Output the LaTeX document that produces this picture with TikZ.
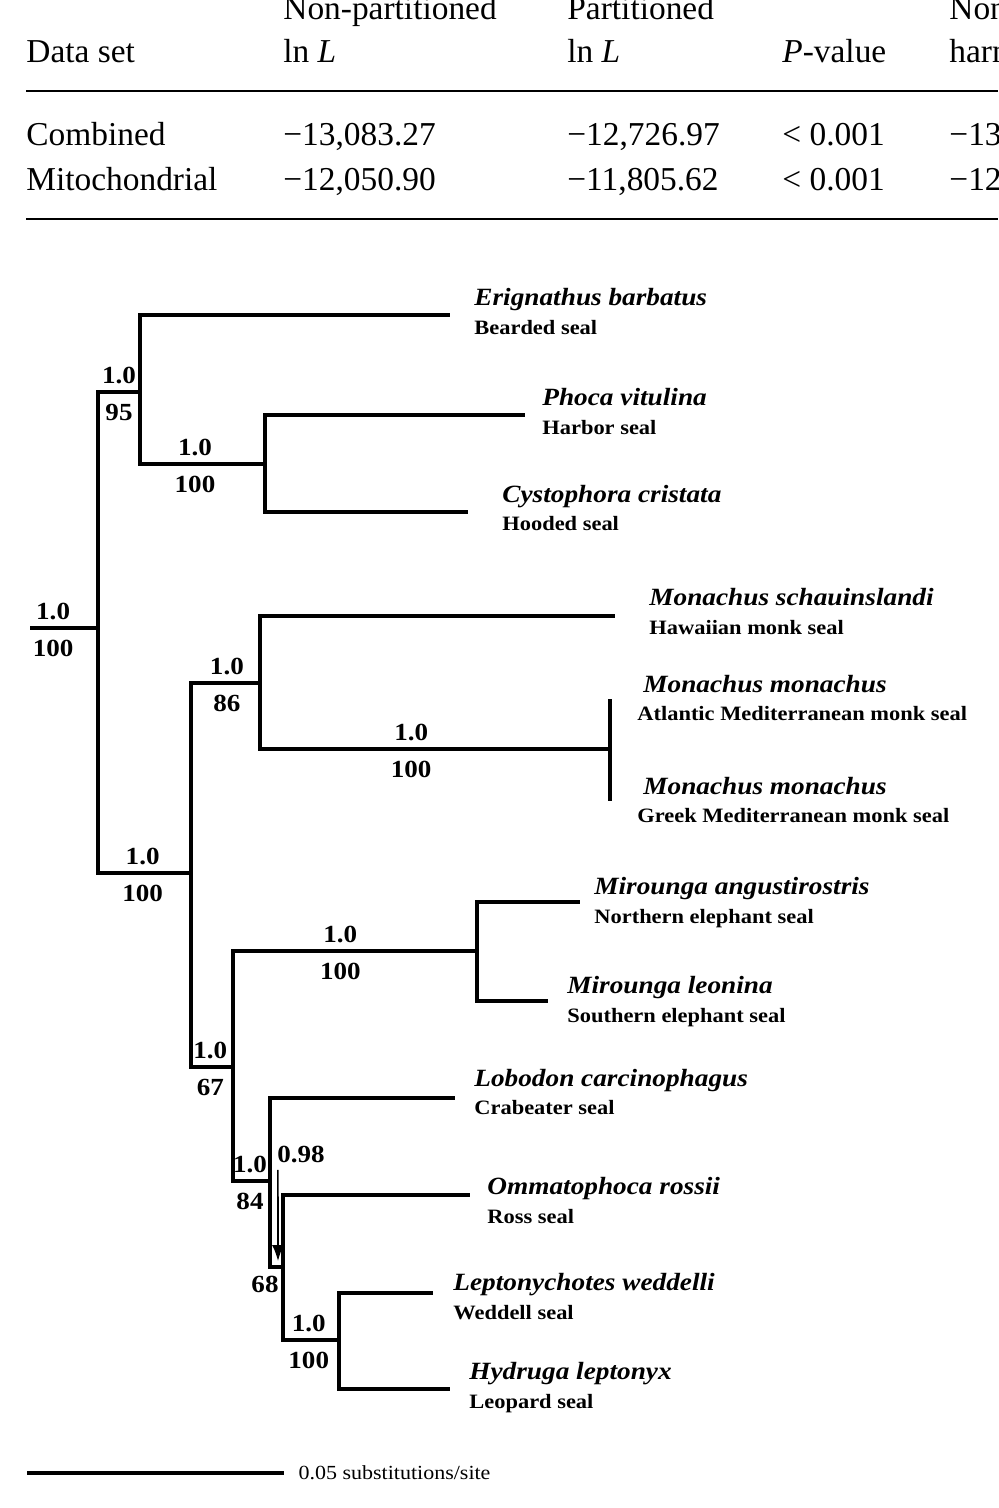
\documentclass[tikz,border=0pt]{standalone}
\usepackage{fontspec}
\setmainfont{Liberation Serif}
\newfontfamily\treefont[FakeStretch=1.1]{Liberation Serif}
\usetikzlibrary{arrows.meta,positioning}

\begin{document}
\begin{tikzpicture}[
  x=0.5pt, y=-0.5pt,
  branch/.style={line width=1.6pt},
  tablerule/.style={line width=#1},
  cell/.style={anchor=base west, inner sep=0pt, font=\fontsize{16.7}{20}\selectfont},
  species/.style={anchor=base west, inner sep=0pt,
    font=\treefont\fontsize{12.4}{15}\selectfont\bfseries\itshape},
  common/.style={anchor=base west, inner sep=0pt,
    font=\treefont\fontsize{10.2}{12}\selectfont\bfseries},
  pp/.style={above=3.5pt, inner sep=0pt, font=\treefont\fontsize{12.3}{14}\selectfont\bfseries},
  bs/.style={below=5.5pt, inner sep=0pt, font=\treefont\fontsize{12.3}{14}\selectfont\bfseries},
  support/.style={inner sep=0pt, font=\treefont\fontsize{12.3}{14}\selectfont\bfseries},
  pointer/.style={line width=0.8pt, -{Latex[length=8pt,width=6pt]}}
]
  \useasboundingbox (0,0) rectangle (998,1508);
  \clip (0,0) rectangle (998,1508);

  % table
  \node[cell] (h-np) at (283,20) {Non-partitioned};
  \node[cell] (h-p) at (567,20) {Partitioned};
  \node[cell] (h-nh) at (949,20) {Non};
  \node[cell] (h-ds) at (26,63) {Data set};
  \node[cell] (h-l1) at (283,63) {ln \textit{L}};
  \node[cell] (h-l2) at (567,63) {ln \textit{L}};
  \node[cell] (h-pv) at (782,63) {\textit{P}-value};
  \node[cell] (h-hm) at (949,63) {harm};
  \draw[tablerule=0.9pt] (26,91) -- (998,91);
  \node[cell] (comb) at (26,146) {Combined};
  \node[cell] (comb-np) at (283,146) {−13,083.27};
  \node[cell] (comb-p) at (567,146) {−12,726.97};
  \node[cell] (comb-pv) at (782,146) {< 0.001};
  \node[cell] (comb-nh) at (949,146) {−13};
  \node[cell] (mito) at (26,191) {Mitochondrial};
  \node[cell] (mito-np) at (283,191) {−12,050.90};
  \node[cell] (mito-p) at (567,191) {−11,805.62};
  \node[cell] (mito-pv) at (782,191) {< 0.001};
  \node[cell] (mito-nh) at (949,191) {−12};
  \draw[tablerule=1.4pt] (26,219) -- (998,219);

  % internal nodes of the tree
  \coordinate (stem) at (30,628);
  \coordinate (root) at (98,628);
  \coordinate (pho) at (140,392);
  \coordinate (phocini) at (265,464);
  \coordinate (mon) at (191,873);
  \coordinate (monachini) at (260,683);
  \coordinate (monmon) at (610,749);
  \coordinate (lobo) at (233,1067);
  \coordinate (mir) at (477,951);
  \coordinate (lbd) at (270,1181);
  \coordinate (omm) at (283,1267);
  \coordinate (lept) at (339,1340);
  % tips
  \coordinate (t-erig) at (450,315);
  \coordinate (t-phoca) at (525,415);
  \coordinate (t-cys) at (468,512);
  \coordinate (t-schau) at (615,616);
  \coordinate (t-atl) at (610,699);
  \coordinate (t-grk) at (610,801);
  \coordinate (t-ang) at (580,902);
  \coordinate (t-leo) at (548,1001);
  \coordinate (t-crab) at (455,1098);
  \coordinate (t-ross) at (470,1195);
  \coordinate (t-wed) at (433,1293);
  \coordinate (t-leop) at (450,1389);

  % branches
  \draw[branch] (stem) -- node[pp,pos=0.34]{1.0} node[bs,pos=0.34]{100} (root);
  \draw[branch] (root) |- node[pp,pos=0.75]{1.0} node[bs,pos=0.75]{95} (pho);
  \draw[branch] (root) |- node[pp,pos=0.74]{1.0} node[bs,pos=0.74]{100} (mon);
  \draw[branch] (pho) |- (t-erig);
  \draw[branch] (pho) |- node[pp,pos=0.72]{1.0} node[bs,pos=0.72]{100} (phocini);
  \draw[branch] (phocini) |- (t-phoca);
  \draw[branch] (phocini) |- (t-cys);
  \draw[branch] (mon) |- node[pp,pos=0.76]{1.0} node[bs,pos=0.76]{86} (monachini);
  \draw[branch] (monachini) |- (t-schau);
  \draw[branch] (monachini) |- node[pp,pos=0.716]{1.0} node[bs,pos=0.716]{100} (monmon);
  \draw[branch] (t-atl) -- (t-grk);
  \draw[branch] (mon) |- node[pp,pos=0.73]{1.0} node[bs,pos=0.73]{67} (lobo);
  \draw[branch] (lobo) |- node[pp,pos=0.72]{1.0} node[bs,pos=0.72]{100} (mir);
  \draw[branch] (mir) |- (t-ang);
  \draw[branch] (mir) |- (t-leo);
  \draw[branch] (lobo) |- node[pp,pos=0.73]{1.0} node[bs,pos=0.73]{84} (lbd);
  \draw[branch] (lbd) |- (t-crab);
  \draw[branch] (lbd) |- (omm);
  \draw[branch] (omm) |- (t-ross);
  \draw[branch] (omm) |- node[pp,pos=0.73]{1.0} node[bs,pos=0.73]{100} (lept);
  \draw[branch] (lept) |- (t-wed);
  \draw[branch] (lept) |- (t-leop);

  % weak node
  \node[support] (p098) at (301,1154) {0.98};
  \node[support] (b68) at (265,1284) {68};
  \coordinate (tip098) at (278,1261);
  \draw[pointer] ([shift={(1,7)}]p098.south west) -- (tip098);

  % taxa
  \node[species] (erig) at (474,306) {Erignathus barbatus};
  \node[common] (erig-c) at (474,335) {Bearded seal};
  \node[species] (phoca) at (542,405) {Phoca vitulina};
  \node[common] (phoca-c) at (542,434) {Harbor seal};
  \node[species] (cys) at (502,502) {Cystophora cristata};
  \node[common] (cys-c) at (502,530) {Hooded seal};
  \node[species] (schau) at (649,605) {Monachus schauinslandi};
  \node[common] (schau-c) at (649,634) {Hawaiian monk seal};
  \node[species] (atl) at (643,692) {Monachus monachus};
  \node[common] (atl-c) at (637,720) {Atlantic Mediterranean monk seal};
  \node[species] (grk) at (643,794) {Monachus monachus};
  \node[common] (grk-c) at (637,822) {Greek Mediterranean monk seal};
  \node[species] (ang) at (594,894) {Mirounga angustirostris};
  \node[common] (ang-c) at (594,923) {Northern elephant seal};
  \node[species] (leo) at (567,993) {Mirounga leonina};
  \node[common] (leo-c) at (567,1022) {Southern elephant seal};
  \node[species] (crab) at (474,1086) {Lobodon carcinophagus};
  \node[common] (crab-c) at (474,1114) {Crabeater seal};
  \node[species] (ross) at (487,1194) {Ommatophoca rossii};
  \node[common] (ross-c) at (487,1223) {Ross seal};
  \node[species] (wed) at (453,1290) {Leptonychotes weddelli};
  \node[common] (wed-c) at (453,1319) {Weddell seal};
  \node[species] (leop) at (469,1379) {Hydruga leptonyx};
  \node[common] (leop-c) at (469,1408) {Leopard seal};

  % scale bar
  \coordinate (sb-l) at (27,1473);
  \coordinate (sb-r) at (284,1473);
  \draw[branch] (sb-l) -- (sb-r)
    node[right=6.5pt, inner sep=0pt, font=\treefont\fontsize{10}{12}\selectfont] (sb-text)
    {0.05 substitutions/site};
\end{tikzpicture}
\end{document}
